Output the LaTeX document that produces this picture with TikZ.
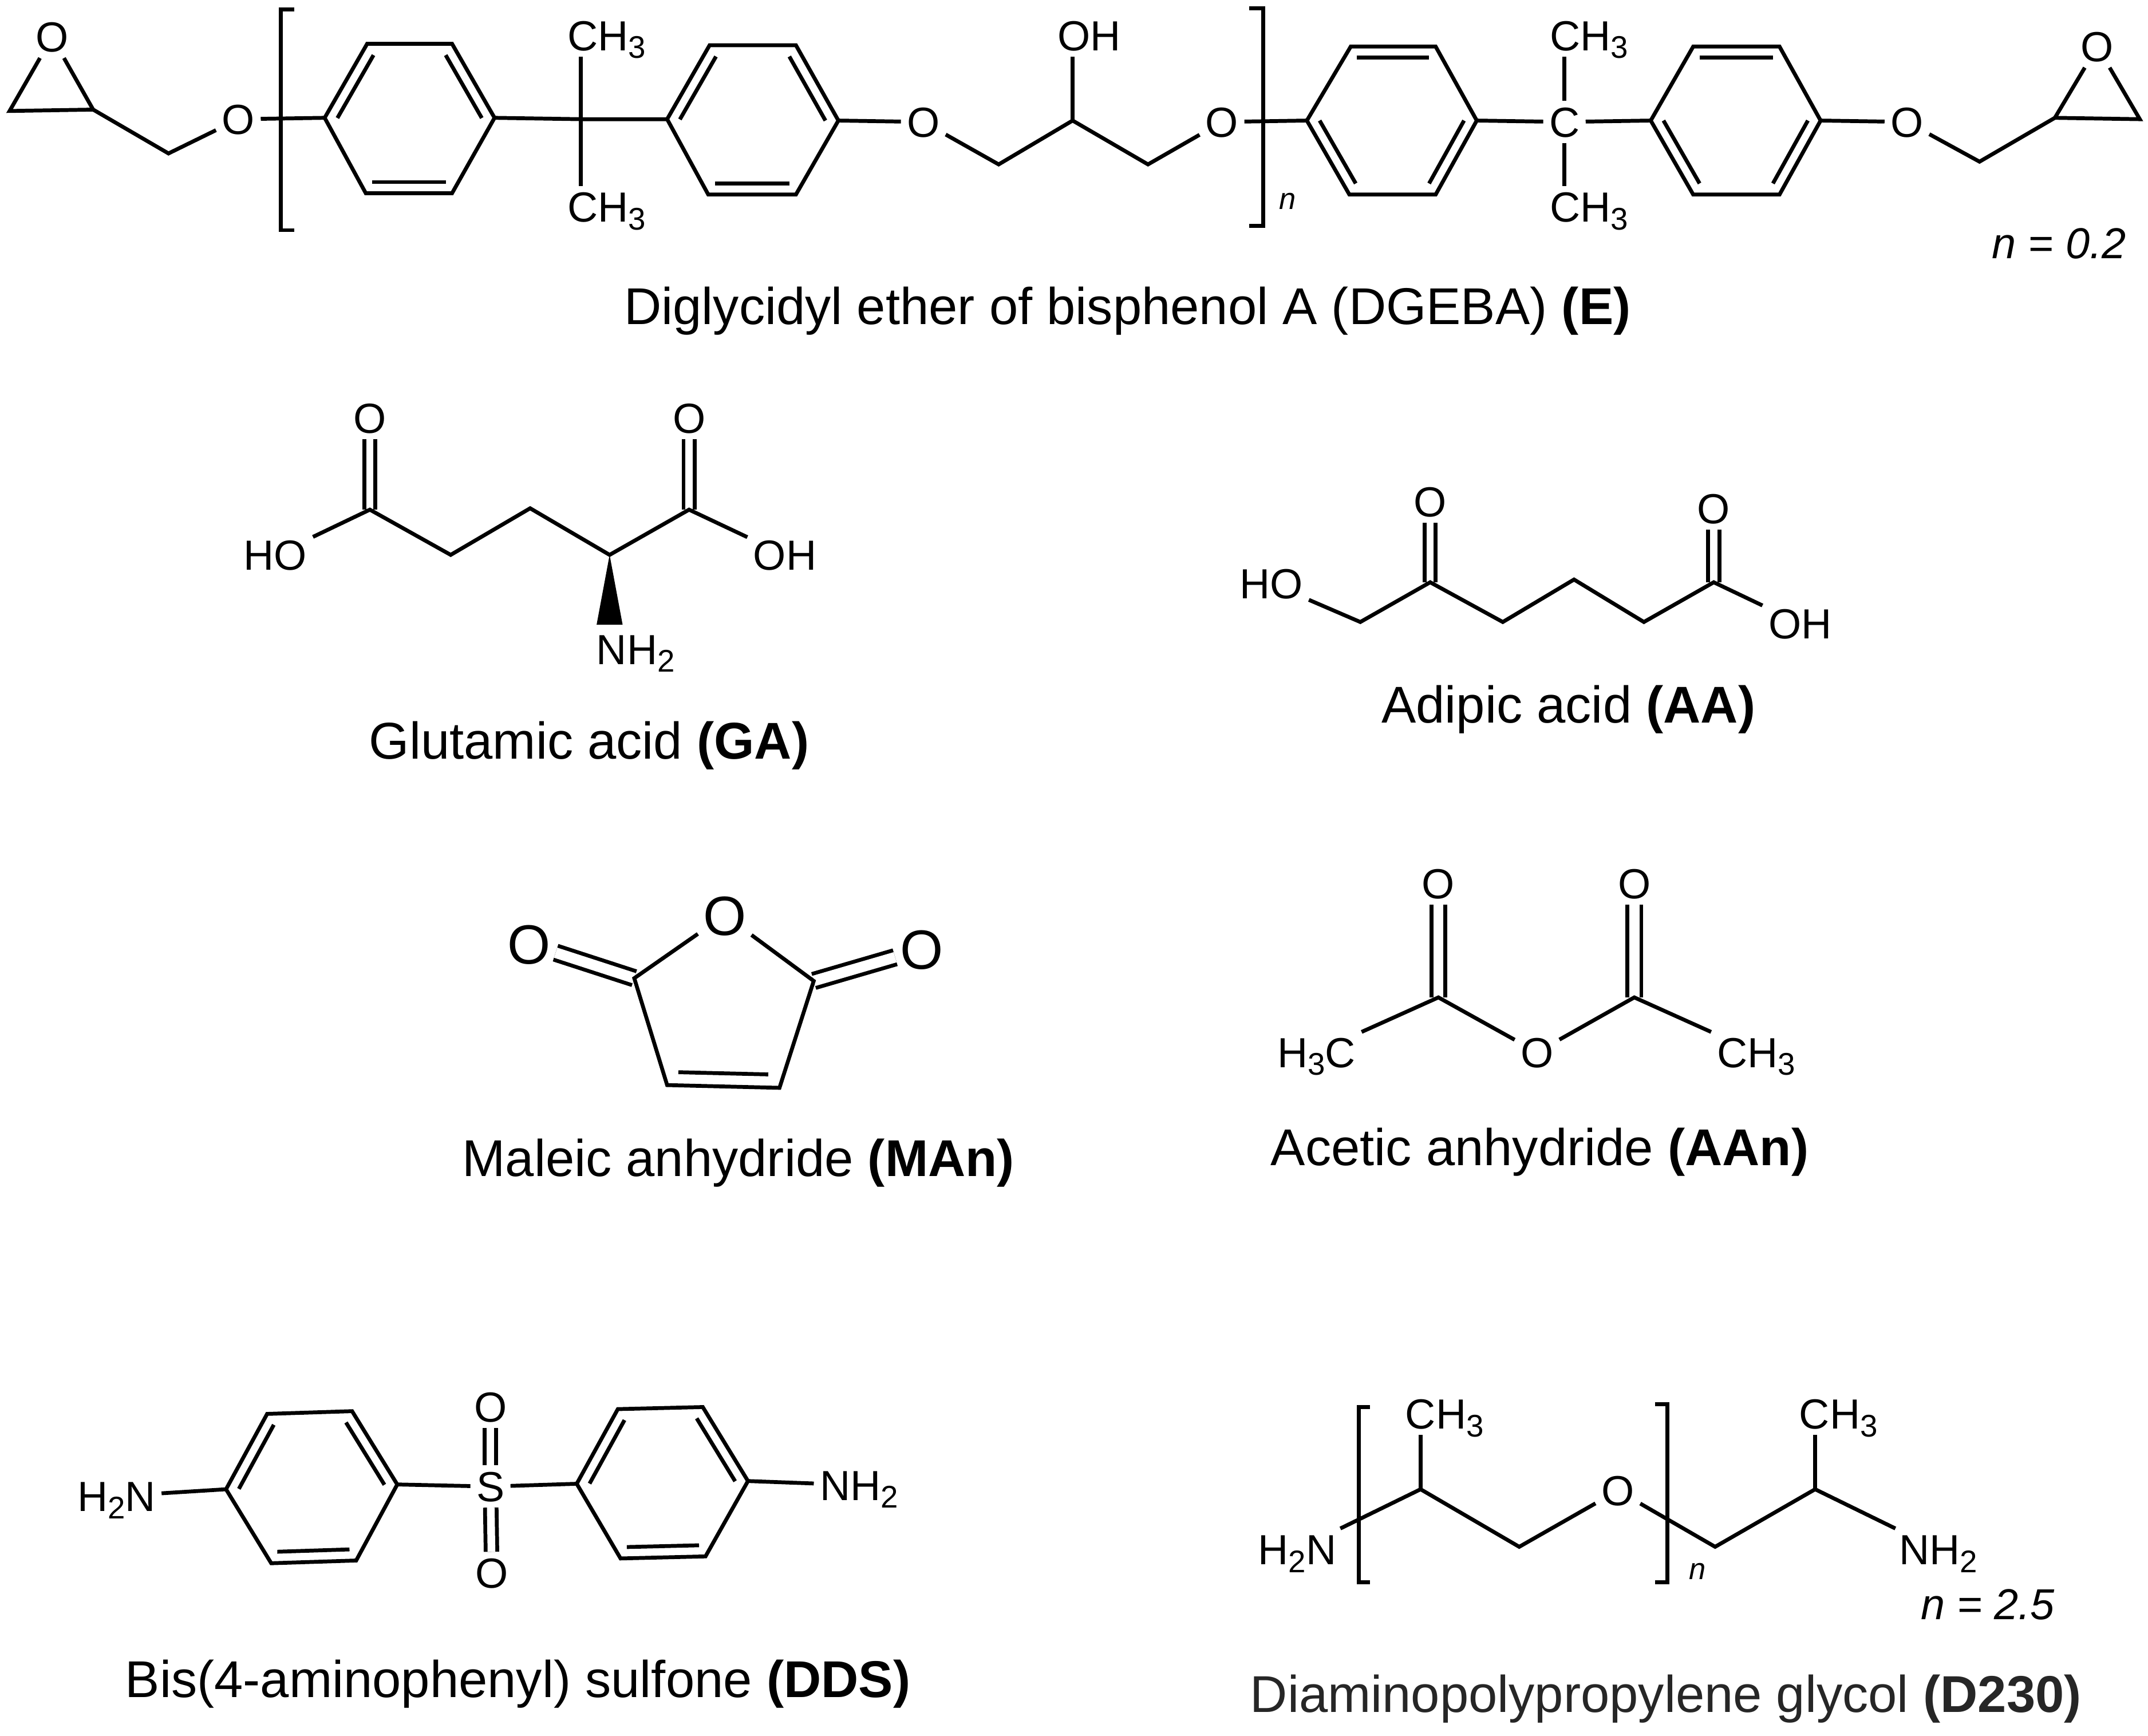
\documentclass[tikz,border=0pt]{standalone}
\usepackage{fontspec}
\setmainfont{Liberation Sans}
\usetikzlibrary{calc}
\newcommand{\chemsub}[1]{\raisebox{-3.2pt}{\fontsize{13}{13}\selectfont #1}}

\begin{document}
\begin{tikzpicture}[x=0.02cm, y=-0.02cm]
        % Define styles
        \tikzstyle{atom} = [inner sep=2.3pt, text height=12.5pt, text depth=0pt, font=\fontsize{17.5}{20}\selectfont]
        \tikzstyle{atombig} = [inner sep=2pt, text height=16.5pt, text depth=0pt, font=\fontsize{23}{26}\selectfont]
        \tikzstyle{bond} = [draw, line width=1.6pt]
        \tikzstyle{dbond} = [draw, line width=1.6pt, double, double distance=3pt]
        \tikzstyle{caption} = [inner sep=0pt, font=\fontsize{21.5}{26}\selectfont]
        \tikzstyle{smalln} = [inner sep=0pt, font=\fontsize{12.5}{15}\selectfont\itshape]
        \tikzstyle{valuen} = [inner sep=0pt, font=\fontsize{18}{22}\selectfont\itshape]
        \useasboundingbox (0,0) rectangle (1568,1266.7);

        % DGEBA: atoms
        \node [atom] (eO1) at (38,27) {O};
        \node [atom] (eO2) at (174,87) {O};
        \node [atom] (eMeA) at (443,26) {CH\chemsub{3}};
        \node [atom] (eMeB) at (443,151) {CH\chemsub{3}};
        \node [atom] (eO3) at (674,89) {O};
        \node [atom] (eOH) at (795,26) {OH};
        \node [atom] (eO4) at (892,89) {O};
        \node [atom] (eC) at (1142,89) {C};
        \node [atom] (eMeC) at (1160,26) {CH\chemsub{3}};
        \node [atom] (eMeD) at (1160,151) {CH\chemsub{3}};
        \node [atom] (eO5) at (1392,89) {O};
        \node [atom] (eO6) at (1531,34) {O};
        \node [smalln] (eN) at (940,147) {n};
        \node [valuen] (eVal) at (1503,178) {n = 0.2};
        \node [caption] (capE) at (823,227) {Diglycidyl ether of bisphenol A (DGEBA) \textbf{(E)}};

        % DGEBA: carbons
        \coordinate (e1) at (7,81);
        \coordinate (e2) at (68,80);
        \coordinate (e3) at (123,112);
        \coordinate (eQ) at (424,87);
        \coordinate (e4) at (729,120);
        \coordinate (e5) at (783,88);
        \coordinate (e6) at (838,120);
        \coordinate (e7) at (1445,118);
        \coordinate (e8) at (1500,86);
        \coordinate (e9) at (1562,87);
        \path (299,87) coordinate (rA) (237,86) coordinate (rA1) (268,32) coordinate (rA2) (330,32) coordinate (rA3)
              (361,86) coordinate (rA4) (330,141) coordinate (rA5) (267,141) coordinate (rA6);
        \path (549,88) coordinate (rB) (487,87) coordinate (rB1) (518,33) coordinate (rB2) (581,33) coordinate (rB3)
              (612,88) coordinate (rB4) (581,142) coordinate (rB5) (517,142) coordinate (rB6);
        \path (1016,88) coordinate (rC) (954,88) coordinate (rC1) (986,34) coordinate (rC2) (1048,34) coordinate (rC3)
              (1078,88) coordinate (rC4) (1048,142) coordinate (rC5) (985,142) coordinate (rC6);
        \path (1267,88) coordinate (rD) (1205,88) coordinate (rD1) (1236,34) coordinate (rD2) (1299,34) coordinate (rD3)
              (1329,88) coordinate (rD4) (1299,142) coordinate (rD5) (1236,142) coordinate (rD6);

        % DGEBA: bonds
        \path [bond] (eO1) -- (e1) -- (e2) -- (eO1);
        \path [bond] (e2) -- (e3) -- (eO2);
        \path [bond] (eO2) -- (rA1);
        \path [bond] (rA1) -- (rA2) -- (rA3) -- (rA4) -- (rA5) -- (rA6) -- cycle;
        \path [bond] ($(rA1)!0.15!(rA)$) -- ($(rA2)!0.15!(rA)$);
        \path [bond] ($(rA3)!0.15!(rA)$) -- ($(rA4)!0.15!(rA)$);
        \path [bond] ($(rA5)!0.15!(rA)$) -- ($(rA6)!0.15!(rA)$);
        \path [bond] (rA4) -- (eQ) -- (rB1);
        \path [bond] (eQ |- eMeA.south) -- (eQ |- eMeB.north);
        \path [bond] (rB1) -- (rB2) -- (rB3) -- (rB4) -- (rB5) -- (rB6) -- cycle;
        \path [bond] ($(rB1)!0.15!(rB)$) -- ($(rB2)!0.15!(rB)$);
        \path [bond] ($(rB3)!0.15!(rB)$) -- ($(rB4)!0.15!(rB)$);
        \path [bond] ($(rB5)!0.15!(rB)$) -- ($(rB6)!0.15!(rB)$);
        \path [bond] (rB4) -- (eO3);
        \path [bond] (eO3) -- (e4) -- (e5) -- (e6) -- (eO4);
        \path [bond] (e5) -- (e5 |- eOH.south);
        \path [bond] (eO4) -- (rC1);
        \path [bond] (rC1) -- (rC2) -- (rC3) -- (rC4) -- (rC5) -- (rC6) -- cycle;
        \path [bond] ($(rC2)!0.15!(rC)$) -- ($(rC3)!0.15!(rC)$);
        \path [bond] ($(rC4)!0.15!(rC)$) -- ($(rC5)!0.15!(rC)$);
        \path [bond] ($(rC6)!0.15!(rC)$) -- ($(rC1)!0.15!(rC)$);
        \path [bond] (rC4) -- (eC);
        \path [bond] (eC) -- (rD1);
        \path [bond] (eC) -- (eC |- eMeC.south);
        \path [bond] (eC) -- (eC |- eMeD.north);
        \path [bond] (rD1) -- (rD2) -- (rD3) -- (rD4) -- (rD5) -- (rD6) -- cycle;
        \path [bond] ($(rD2)!0.15!(rD)$) -- ($(rD3)!0.15!(rD)$);
        \path [bond] ($(rD4)!0.15!(rD)$) -- ($(rD5)!0.15!(rD)$);
        \path [bond] ($(rD6)!0.15!(rD)$) -- ($(rD1)!0.15!(rD)$);
        \path [bond] (rD4) -- (eO5);
        \path [bond] (eO5) -- (e7) -- (e8);
        \path [bond] (eO6) -- (e8) -- (e9) -- (eO6);

        % DGEBA: brackets
        \path [bond] (215,7) -- (205,7) -- (205,168) -- (215,168);
        \path [bond] (912,6) -- (922,6) -- (922,165) -- (912,165);

        % Glutamic acid
        \node [atom] (gO1) at (270,305) {O};
        \node [atom] (gO2) at (503,305) {O};
        \node [atom] (gHO) at (201,405) {HO};
        \node [atom] (gOH) at (573,405) {OH};
        \node [atom] (gNH) at (464,474) {NH\chemsub{2}};
        \node [caption] (capGA) at (430,544) {Glutamic acid \textbf{(GA)}};
        \coordinate (g1) at (270,372);
        \coordinate (g2) at (329,405);
        \coordinate (g3) at (387,371);
        \coordinate (g4) at (445,405);
        \coordinate (g5) at (503,372);
        \coordinate (gwa) at (435.5,456);
        \coordinate (gwb) at (454.5,456);
        \path [dbond] (g1) -- (gO1);
        \path [dbond] (g5) -- (gO2);
        \path [bond] (gHO) -- (g1) -- (g2) -- (g3) -- (g4) -- (g5) -- (gOH);
        \fill (g4) -- (gwa) -- (gwb) -- cycle;

        % Adipic acid
        \node [atom] (aHO) at (928,426) {HO};
        \node [atom] (aO1) at (1044,366) {O};
        \node [atom] (aO2) at (1251,371) {O};
        \node [atom] (aOH) at (1314,455) {OH};
        \node [caption] (capAA) at (1145,518) {Adipic acid \textbf{(AA)}};
        \coordinate (a1) at (993,454);
        \coordinate (a2) at (1044,425);
        \coordinate (a3) at (1097,454);
        \coordinate (a4) at (1149,423);
        \coordinate (a5) at (1200,454);
        \coordinate (a6) at (1251,425);
        \path [dbond] (a2) -- (aO1);
        \path [dbond] (a6) -- (aO2);
        \path [bond] (aHO) -- (a1) -- (a2) -- (a3) -- (a4) -- (a5) -- (a6) -- (aOH);

        % Maleic anhydride
        \node [atombig] (mO) at (529,668) {O};
        \node [atombig] (mO1) at (386,689) {O};
        \node [atombig] (mO2) at (673,693) {O};
        \node [caption] (capMAn) at (539,849) {Maleic anhydride \textbf{(MAn)}};
        \coordinate (m) at (528,745);
        \coordinate (m1) at (463,714);
        \coordinate (m2) at (594,716);
        \coordinate (m3) at (569,794);
        \coordinate (m4) at (487,792);
        \path [dbond, double distance=4.4pt] (m1) -- (mO1);
        \path [dbond, double distance=4.4pt] (m2) -- (mO2);
        \path [bond] (mO) -- (m1) -- (m4) -- (m3) -- (m2) -- (mO);
        \path [bond] ($(m4)!0.2!(m)$) -- ($(m3)!0.2!(m)$);

        % Acetic anhydride
        \node [atom] (cO1) at (1050,645) {O};
        \node [atom] (cO2) at (1193,645) {O};
        \node [atom] (cO) at (1122,768) {O};
        \node [atom] (cMeA) at (961,768) {H\chemsub{3}C};
        \node [atom] (cMeB) at (1282,768) {CH\chemsub{3}};
        \node [caption] (capAAn) at (1124,841) {Acetic anhydride \textbf{(AAn)}};
        \coordinate (c1) at (1050,728);
        \coordinate (c2) at (1193,728);
        \path [dbond, double distance=4.2pt] (c1) -- (cO1);
        \path [dbond, double distance=4.2pt] (c2) -- (cO2);
        \path [bond] (cMeA) -- (c1) -- (cO);
        \path [bond] (cO) -- (c2) -- (cMeB);

        % DDS
        \node [atom] (dNa) at (85,1092) {H\chemsub{2}N};
        \node [atom] (dNb) at (627,1084) {NH\chemsub{2}};
        \node [atom] (dS) at (358,1085) {S};
        \node [atom] (dO1) at (358,1027) {O};
        \node [atom] (dO2) at (359,1148) {O};
        \node [caption] (capDDS) at (378,1229) {Bis(4-aminophenyl) sulfone \textbf{(DDS)}};
        \path (227.5,1085) coordinate (sA) (165,1087) coordinate (sA1) (195,1032) coordinate (sA2) (257,1030) coordinate (sA3)
              (290,1083.5) coordinate (sA4) (260,1139) coordinate (sA5) (198,1141) coordinate (sA6);
        \path (483.5,1082) coordinate (sB) (421,1083) coordinate (sB1) (451,1028.5) coordinate (sB2) (513,1027) coordinate (sB3)
              (546,1081) coordinate (sB4) (515,1136) coordinate (sB5) (453,1137.5) coordinate (sB6);
        \path [dbond, double distance=3.2pt] (dS) -- (dO1);
        \path [dbond, double distance=3.2pt] (dS) -- (dO2);
        \path [bond] (dNa) -- (sA1);
        \path [bond] (sA1) -- (sA2) -- (sA3) -- (sA4) -- (sA5) -- (sA6) -- cycle;
        \path [bond] ($(sA1)!0.15!(sA)$) -- ($(sA2)!0.15!(sA)$);
        \path [bond] ($(sA3)!0.15!(sA)$) -- ($(sA4)!0.15!(sA)$);
        \path [bond] ($(sA5)!0.15!(sA)$) -- ($(sA6)!0.15!(sA)$);
        \path [bond] (sA4) -- (dS);
        \path [bond] (dS) -- (sB1);
        \path [bond] (sB1) -- (sB2) -- (sB3) -- (sB4) -- (sB5) -- (sB6) -- cycle;
        \path [bond] ($(sB1)!0.15!(sB)$) -- ($(sB2)!0.15!(sB)$);
        \path [bond] ($(sB3)!0.15!(sB)$) -- ($(sB4)!0.15!(sB)$);
        \path [bond] ($(sB5)!0.15!(sB)$) -- ($(sB6)!0.15!(sB)$);
        \path [bond] (sB4) -- (dNb);

        % D230
        \node [atom] (pNa) at (947,1131) {H\chemsub{2}N};
        \node [atom] (pNb) at (1415,1131) {NH\chemsub{2}};
        \node [atom] (pMeA) at (1054.5,1032) {CH\chemsub{3}};
        \node [atom] (pMeB) at (1342,1032) {CH\chemsub{3}};
        \node [atom] (pO) at (1181,1088) {O};
        \node [smalln] (pN) at (1239,1147) {n};
        \node [valuen] (pVal) at (1451,1171) {n = 2.5};
        \node [caption, text=black!85] (capD) at (1216,1240) {Diaminopolypropylene glycol \textbf{(D230)}};
        \coordinate (p1) at (1037,1087);
        \coordinate (p2) at (1109,1129);
        \coordinate (p3) at (1252,1129);
        \coordinate (p4) at (1325,1087);
        \path [bond] (pNa) -- (p1) -- (p2) -- (pO);
        \path [bond] (pO) -- (p3) -- (p4) -- (pNb);
        \path [bond] (p1) -- (p1 |- pMeA.south);
        \path [bond] (p4) -- (p4 |- pMeB.south);
        \path [bond] (1000,1027) -- (992,1027) -- (992,1155) -- (1000,1155);
        \path [bond] (1208,1025) -- (1217,1025) -- (1217,1155) -- (1208,1155);

\end{tikzpicture}
\end{document}
